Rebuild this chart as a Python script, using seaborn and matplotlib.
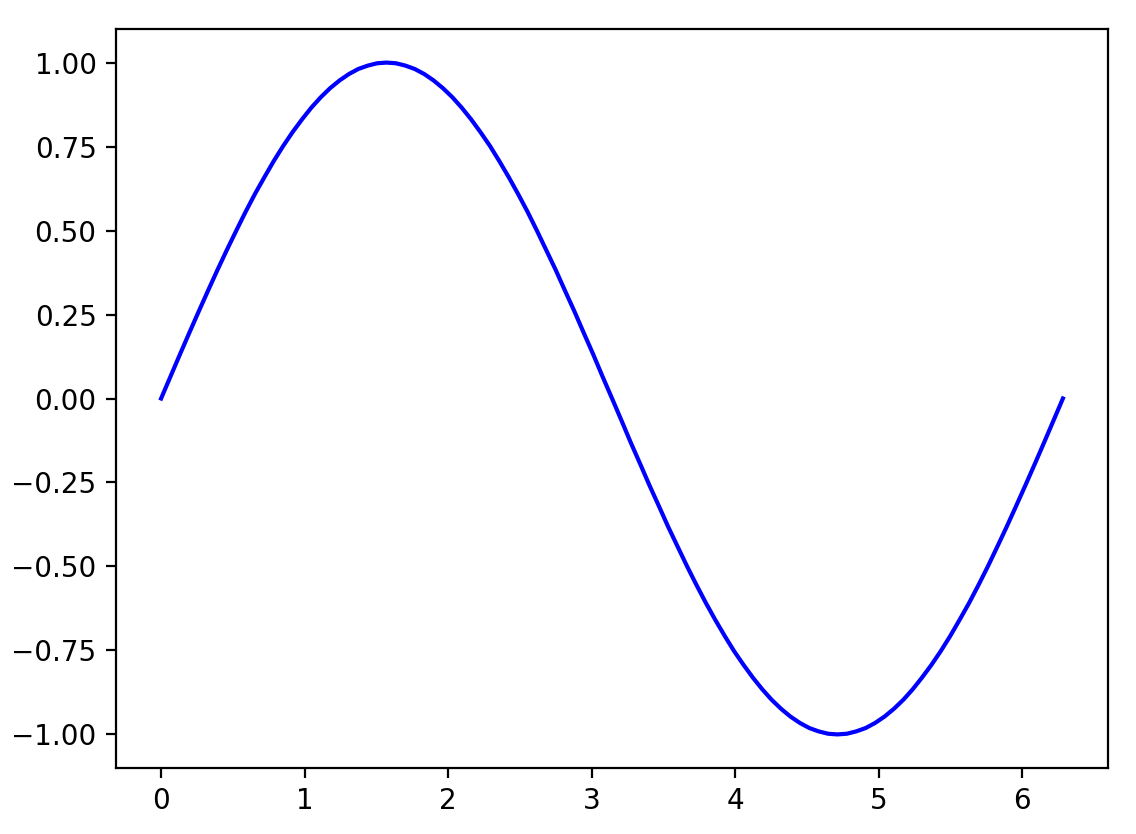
import matplotlib
matplotlib.use("Agg")
import matplotlib.pyplot as plt
import seaborn as sns

# curve points
x_vals = [0.000, 0.065, 0.131, 0.196, 0.262, 0.327, 0.393, 0.458, 0.524, 0.589,
          0.654, 0.720, 0.785, 0.851, 0.916, 0.982, 1.047, 1.113, 1.178, 1.244,
          1.309, 1.374, 1.440, 1.505, 1.571, 1.636, 1.702, 1.767, 1.833, 1.898,
          1.963, 2.029, 2.094, 2.160, 2.225, 2.291, 2.356, 2.422, 2.487, 2.553,
          2.618, 2.683, 2.749, 2.814, 2.880, 2.945, 3.011, 3.076, 3.142, 3.207,
          3.272, 3.338, 3.403, 3.469, 3.534, 3.600, 3.665, 3.731, 3.796, 3.861,
          3.927, 3.992, 4.058, 4.123, 4.189, 4.254, 4.320, 4.385, 4.451, 4.516,
          4.581, 4.647, 4.712, 4.778, 4.843, 4.909, 4.974, 5.040, 5.105, 5.171,
          5.236, 5.301, 5.367, 5.432, 5.498, 5.563, 5.629, 5.694, 5.760, 5.825,
          5.890, 5.956, 6.021, 6.087, 6.152, 6.218, 6.283]
y_vals = [0.000, 0.065, 0.131, 0.195, 0.259, 0.321, 0.383, 0.442, 0.500, 0.556,
          0.609, 0.659, 0.707, 0.752, 0.793, 0.831, 0.866, 0.897, 0.924, 0.947,
          0.966, 0.981, 0.991, 0.998, 1.000,
          0.998, 0.991, 0.981, 0.966, 0.947, 0.924, 0.897, 0.866, 0.831, 0.793,
          0.752, 0.707, 0.659, 0.609, 0.556, 0.500, 0.442, 0.383, 0.321, 0.259,
          0.195, 0.131, 0.065, 0.000,
          -0.065, -0.131, -0.195, -0.259, -0.321, -0.383, -0.442, -0.500, -0.556, -0.609,
          -0.659, -0.707, -0.752, -0.793, -0.831, -0.866, -0.897, -0.924, -0.947, -0.966,
          -0.981, -0.991, -0.998, -1.000,
          -0.998, -0.991, -0.981, -0.966, -0.947, -0.924, -0.897, -0.866, -0.831, -0.793,
          -0.752, -0.707, -0.659, -0.609, -0.556, -0.500, -0.442, -0.383, -0.321, -0.259,
          -0.195, -0.131, -0.065, 0.000]

fig = plt.figure(figsize=(5.68, 4.17), dpi=200)
# axes box placed to match the reference pixel frame (116..1108 x 29..768)
ax = fig.add_axes([116 / 1136, (834 - 768) / 834, 992 / 1136, 739 / 834])
sns.lineplot(x=x_vals, y=y_vals, color="blue", linewidth=1.5, ax=ax)

fig.savefig("out.png", dpi=200, facecolor="white")
plt.close(fig)
